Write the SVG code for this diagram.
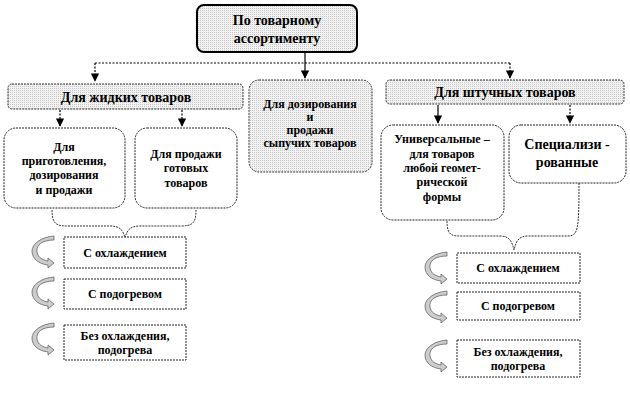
<svg xmlns="http://www.w3.org/2000/svg" width="630" height="400" viewBox="0 0 630 400" font-family="'Liberation Serif', 'DejaVu Serif', serif">
<defs>
<pattern id="dots" width="2" height="2" patternUnits="userSpaceOnUse"><rect width="2" height="2" fill="#f2f2f2"/><rect width="1" height="1" fill="#c8c8c8"/></pattern>
<marker id="ah" viewBox="0 0 10 10" refX="9" refY="5" markerWidth="7" markerHeight="7" orient="auto"><path d="M0,0 L10,5 L0,10 z" fill="#000"/></marker>
<path id="curl" d="M20,0 C8,0 2,5 3,12 C4,18 9,20 14,21 L14,18 L20,23 L14,28 L14,25 C5,24 -2,19 -2,11 C-2,4 7,-3 20,-4 z" fill="#ccc" stroke="#555" stroke-width="0.7"/>
</defs>
<style>
text{font-family:'Liberation Serif','DejaVu Serif',serif;font-weight:bold;font-size:12px;text-anchor:middle;fill:#000}
.t{font-size:14px}
.g{fill:url(#dots);stroke:#333;stroke-width:1;stroke-dasharray:2 1}
.w{fill:#fff;stroke:#222;stroke-width:1;stroke-dasharray:2 1}
.c{fill:none;stroke:#000;stroke-width:1.2;stroke-dasharray:2 1.5}
.b{fill:none;stroke:#000;stroke-width:0.8;stroke-dasharray:2 1}
</style>
<g id="connectors">
<path class="c" d="M95,63 H510"/>
<path class="c" d="M95,63 V81" marker-end="url(#ah)"/>
<path class="c" d="M510,63 V78" marker-end="url(#ah)"/>
<path d="M305,52 V78" stroke="#000" stroke-width="1.2" marker-end="url(#ah)"/>
<path class="c" d="M60,110 V126" marker-end="url(#ah)"/>
<path class="c" d="M182,110 V126" marker-end="url(#ah)"/>
<path d="M438,105 V123" stroke="#000" stroke-width="1.2" marker-end="url(#ah)"/>
<path class="c" d="M570,105 V123" marker-end="url(#ah)"/>
<path class="b" d="M52,210 C52,226 58,226 70,226 H110 C120,226 123,230 125,238 C127,230 130,226 140,226 H180 C192,226 196,224 196,210"/>
<path class="b" d="M447,221 C447,236 452,236 462,236 H500 C510,236 512,242 514,250 C516,242 518,236 528,236 H568 C578,236 579,230 579,183"/>
</g>
<g id="top"><rect x="197" y="5" width="160" height="47" rx="7" fill="url(#dots)" stroke="#000" stroke-width="2"/><text class="t" x="277" y="25">По товарному</text><text class="t" x="277" y="43">ассортименту</text></g>
<g id="liquid"><rect class="g" x="8" y="84" width="235" height="25" rx="4"/><text class="t" x="126" y="102">Для жидких товаров</text></g>
<g id="bulk"><rect class="g" x="249" y="80" width="123" height="92" rx="10"/><text x="310" y="108">Для дозирования</text><text x="310" y="121">и</text><text x="310" y="134">продажи</text><text x="310" y="147">сыпучих товаров</text></g>
<g id="piece"><rect class="g" x="386" y="80" width="238" height="24" rx="4"/><text class="t" x="505" y="97">Для  штучных товаров</text></g>
<g id="prep"><rect class="w" x="4" y="128" width="121" height="80" rx="12"/><text x="64" y="151">Для</text><text x="64" y="165">приготовления,</text><text x="64" y="179">дозирования</text><text x="64" y="194">и продажи</text></g>
<g id="ready"><rect class="w" x="135" y="128" width="102" height="80" rx="12"/><text x="186" y="158">Для продажи</text><text x="186" y="172">готовых</text><text x="186" y="187">товаров</text></g>
<g id="univ"><rect class="w" x="381" y="125" width="123" height="95" rx="12"/><text x="442" y="143">Универсальные –</text><text x="442" y="158">для товаров</text><text x="442" y="172">любой геомет-</text><text x="442" y="186">рической</text><text x="442" y="201">формы</text></g>
<g id="spec"><rect class="w" x="509" y="125" width="117" height="58" rx="12"/><text class="t" x="567" y="149">Специализи -</text><text class="t" x="567" y="167">рованные</text></g>
<g id="l1"><use href="#curl" x="34" y="240"/><rect class="w" x="64" y="237" width="122" height="31"/><text x="125" y="257">С охлаждением</text></g>
<g id="l2"><use href="#curl" x="34" y="281"/><rect class="w" x="64" y="279" width="122" height="30"/><text x="125" y="298">С подогревом</text></g>
<g id="l3"><use href="#curl" x="34" y="327"/><rect class="w" x="64" y="325" width="122" height="35"/><text x="125" y="340">Без охлаждения,</text><text x="125" y="354">подогрева</text></g>
<g id="r1"><use href="#curl" x="427" y="256"/><rect class="w" x="457" y="253" width="123" height="30"/><text x="518" y="272">С охлаждением</text></g>
<g id="r2"><use href="#curl" x="427" y="295"/><rect class="w" x="457" y="292" width="123" height="28"/><text x="518" y="310">С подогревом</text></g>
<g id="r3"><use href="#curl" x="427" y="344"/><rect class="w" x="457" y="340" width="123" height="37"/><text x="518" y="356">Без охлаждения,</text><text x="518" y="370">подогрева</text></g>
</svg>
